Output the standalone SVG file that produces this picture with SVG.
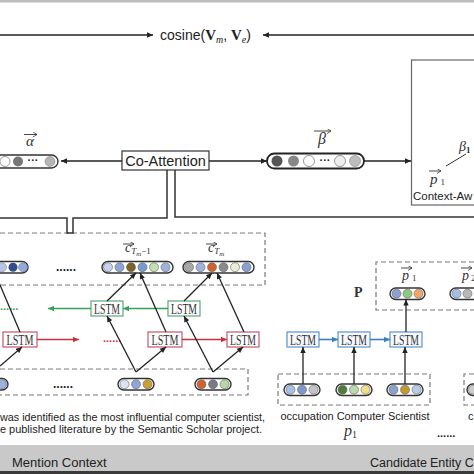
<svg xmlns="http://www.w3.org/2000/svg" width="474" height="474" viewBox="0 0 474 474">
<defs>
<marker id="ak" viewBox="0 0 10 10" refX="10" refY="5" markerWidth="7" markerHeight="6" markerUnits="userSpaceOnUse" orient="auto"><path d="M0,0.5 L10,5 L0,9.5 z" fill="#222"/></marker>
<marker id="ar" viewBox="0 0 10 10" refX="10" refY="5" markerWidth="7" markerHeight="6" markerUnits="userSpaceOnUse" orient="auto"><path d="M0,0.5 L10,5 L0,9.5 z" fill="#c8323f"/></marker>
<marker id="ag" viewBox="0 0 10 10" refX="10" refY="5" markerWidth="7" markerHeight="6" markerUnits="userSpaceOnUse" orient="auto"><path d="M0,0.5 L10,5 L0,9.5 z" fill="#34a25a"/></marker>
<marker id="ab" viewBox="0 0 10 10" refX="10" refY="5" markerWidth="7" markerHeight="6" markerUnits="userSpaceOnUse" orient="auto"><path d="M0,0.5 L10,5 L0,9.5 z" fill="#3a7fc1"/></marker>
<marker id="vec" viewBox="0 0 10 10" refX="10" refY="5" markerWidth="5" markerHeight="5" markerUnits="userSpaceOnUse" orient="auto"><path d="M2,0 L10,5 L2,10" fill="none" stroke="#333" stroke-width="1.5"/></marker>
</defs>
<style>
.sans{font-family:"Liberation Sans",Arial,sans-serif;fill:#222}
.ser{font-family:"Liberation Serif","Times New Roman",serif;fill:#333}
.mi{font-family:"Liberation Serif","Times New Roman",serif;font-style:italic;fill:#333}
.pill{fill:#fff;stroke:#333;stroke-width:1.4}
.dash{fill:none;stroke:#7a7a7a;stroke-width:1.2;stroke-dasharray:5 3}
.ck{stroke:#222;stroke-width:1.3;fill:none;marker-end:url(#ak)}
.cr{stroke:#c8323f;stroke-width:1.4;fill:none;marker-end:url(#ar)}
.cg{stroke:#34a25a;stroke-width:1.4;fill:none;marker-end:url(#ag)}
.cb{stroke:#3a7fc1;stroke-width:1.6;fill:none;marker-end:url(#ab)}
.lg{fill:#fff;stroke:#5aa97a;stroke-width:1.2}
.lr{fill:#fff;stroke:#c9566f;stroke-width:1.2}
.lb{fill:#f6faff;stroke:#5b94c8;stroke-width:1.2}
.lt{font-family:"Liberation Serif","Times New Roman",serif;font-size:14px;fill:#333;text-anchor:middle}
.v{stroke:#333;stroke-width:0.9;fill:none;marker-end:url(#vec)}
.c{stroke:#666;stroke-width:0.6}
</style>

<!-- frame bands -->
<rect x="0" y="0" width="474" height="2.5" fill="#bdbdbd"/>
<rect x="0" y="445" width="474" height="27" fill="#c9c9c9"/>
<rect x="0" y="471" width="474" height="3" fill="#3a3a3a"/>
<text class="sans" x="12" y="467" font-size="13">Mention Context</text>
<text class="sans" x="370" y="467" font-size="12.5">Candidate<tspan x="430">Entity C</tspan></text>

<!-- cosine -->
<g id="cosine">
<text class="sans" x="160" y="40" font-size="14">cosine(<tspan font-family="Liberation Serif" font-weight="bold" font-size="15">V</tspan><tspan font-family="Liberation Serif" font-style="italic" font-size="10" dy="3">m</tspan><tspan dy="-3">, </tspan><tspan font-family="Liberation Serif" font-weight="bold" font-size="15">V</tspan><tspan font-family="Liberation Serif" font-style="italic" font-size="10" dy="3">e</tspan><tspan dy="-3">)</tspan></text>
</g>

<!-- context-aware box -->
<g id="context-aware">
<rect x="411.5" y="60" width="80" height="145" fill="#fff" stroke="#666" stroke-width="1.2"/>
<line x1="446" y1="166" x2="466" y2="154" stroke="#333" stroke-width="1"/>
<text class="mi" x="459" y="151" font-size="14">β<tspan font-style="normal" font-weight="bold" font-size="9" dy="2">1</tspan></text>
<text class="mi" x="430" y="184" font-size="15">p<tspan font-style="normal" font-size="9" dx="3" dy="1">1</tspan></text>
<path class="v" d="M429,171 H441"/>
<text class="sans" x="413" y="200" font-size="11.5">Context-Aw</text>
</g>

<!-- alpha vector -->
<g id="alpha">
<rect class="pill" x="-10" y="155" width="68" height="13" rx="6.5"/>
<circle cx="5" cy="161.5" r="5" fill="#fff" stroke="#999"/>
<circle cx="18" cy="161.5" r="5" fill="#777"/>
<text class="sans" x="33" y="164" font-size="11" font-weight="bold" text-anchor="middle">···</text>
<circle cx="50" cy="161.5" r="5" fill="#b5b5b5" stroke="#888" stroke-width="0.6"/>
<text class="mi" x="30" y="146" font-size="15" text-anchor="middle">α</text>
<path class="v" d="M24,134.5 H37"/>
</g>

<!-- co-attention -->
<g id="co-attention">
<rect x="122" y="151" width="87" height="19" fill="#fff" stroke="#333" stroke-width="1.2"/>
<text class="sans" x="165.5" y="166" font-size="14.5" text-anchor="middle">Co-Attention</text>
</g>

<!-- beta vector -->
<g id="beta">
<rect x="267" y="153.5" width="97" height="15" rx="7.5" fill="#fff" stroke="#222" stroke-width="1.8"/>
<circle cx="277" cy="161" r="5.5" fill="#555"/>
<circle cx="293.5" cy="161" r="5.5" fill="#888"/>
<circle cx="309" cy="161" r="5.5" fill="#fff" stroke="#999"/>
<text class="sans" x="325" y="164" font-size="11" font-weight="bold" text-anchor="middle">···</text>
<circle cx="340" cy="161" r="5.5" fill="#eee" stroke="#999"/>
<circle cx="355" cy="161" r="5.5" fill="#bdbdbd" stroke="#888" stroke-width="0.6"/>
<text class="mi" x="322" y="144" font-size="16" text-anchor="middle">β</text>
<path class="v" d="M314,131 H331"/>
</g>

<!-- upper (mention context) vectors -->
<g id="ctx-vectors">
<path class="dash" d="M0,233 H265 V285 H0"/>
<rect class="pill" x="-20" y="261.5" width="48" height="11.5" rx="5.75"/>
<circle cx="2" cy="267.2" r="4.5" fill="#b7c5ea" stroke="#777" stroke-width="0.5"/>
<circle cx="13" cy="267.2" r="4.5" fill="#2f4f8c"/>
<circle cx="23" cy="267.2" r="4.5" fill="#93a9dc" stroke="#777" stroke-width="0.5"/>
<text class="sans" x="56" y="271" font-size="12" font-weight="bold">......</text>
<rect class="pill" x="102" y="261.5" width="71" height="11.5" rx="5.75"/>
<circle cx="108" cy="267.2" r="4.5" fill="#c8d0ef" class="c"/>
<circle cx="119.5" cy="267.2" r="4.5" fill="#8fa4d8" class="c"/>
<circle cx="131" cy="267.2" r="4.5" fill="#7d6326" class="c"/>
<circle cx="142.5" cy="267.2" r="4.5" fill="#7b9bd0" class="c"/>
<circle cx="154" cy="267.2" r="4.5" fill="#c5dfb0" class="c"/>
<circle cx="165.5" cy="267.2" r="4.5" fill="#9db2e0" class="c"/>
<text class="mi" x="125" y="252" font-size="14">c<tspan font-size="9" dy="2">T</tspan><tspan font-size="7" dy="2">m</tspan><tspan font-style="normal" font-size="9" dy="-2">−1</tspan></text>
<path class="v" d="M123,244 H134"/>
<rect class="pill" x="183" y="261.5" width="71" height="11.5" rx="5.75"/>
<circle cx="189" cy="267.2" r="4.5" fill="#a8a8a8" class="c"/>
<circle cx="200.5" cy="267.2" r="4.5" fill="#9db2e0" class="c"/>
<circle cx="212" cy="267.2" r="4.5" fill="#d4622c" class="c"/>
<circle cx="223.5" cy="267.2" r="4.5" fill="#8a8a8a" class="c"/>
<circle cx="235" cy="267.2" r="4.5" fill="#e8efd8" class="c"/>
<circle cx="246.5" cy="267.2" r="4.5" fill="#8a9fd6" class="c"/>
<text class="mi" x="208" y="252" font-size="14">c<tspan font-size="9" dy="2">T</tspan><tspan font-size="7" dy="2">m</tspan></text>
<path class="v" d="M206,244 H217"/>
</g>

<!-- LSTMs -->
<g id="lstm-g1"><rect class="lg" x="91" y="301" width="32" height="15"/><text class="lt" x="107" y="313.5" textLength="26" lengthAdjust="spacingAndGlyphs">LSTM</text></g>
<g id="lstm-g2"><rect class="lg" x="168" y="301" width="32" height="15"/><text class="lt" x="184" y="313.5" textLength="26" lengthAdjust="spacingAndGlyphs">LSTM</text></g>
<g id="lstm-r1"><rect class="lr" x="3" y="332" width="34" height="15"/><text class="lt" x="20" y="344.5" textLength="27" lengthAdjust="spacingAndGlyphs">LSTM</text></g>
<g id="lstm-r2"><rect class="lr" x="148" y="332" width="34" height="15"/><text class="lt" x="165" y="344.5" textLength="27" lengthAdjust="spacingAndGlyphs">LSTM</text></g>
<g id="lstm-r3"><rect class="lr" x="227" y="332" width="32" height="15"/><text class="lt" x="243" y="344.5" textLength="26" lengthAdjust="spacingAndGlyphs">LSTM</text></g>
<g id="lstm-b1"><rect class="lb" x="287" y="332" width="32" height="15"/><text class="lt" x="303" y="344.5" textLength="26" lengthAdjust="spacingAndGlyphs">LSTM</text></g>
<g id="lstm-b2"><rect class="lb" x="338" y="332" width="32" height="15"/><text class="lt" x="354" y="344.5" textLength="26" lengthAdjust="spacingAndGlyphs">LSTM</text></g>
<g id="lstm-b3"><rect class="lb" x="390" y="332" width="32" height="15"/><text class="lt" x="406" y="344.5" textLength="26" lengthAdjust="spacingAndGlyphs">LSTM</text></g>
<text class="sans" x="0" y="310" font-size="11" font-weight="bold" style="fill:#34a25a">......</text>
<text class="sans" x="103" y="342" font-size="11" font-weight="bold" style="fill:#c8323f">......</text>

<!-- lower (mention word) vectors -->
<g id="word-vectors">
<path class="dash" d="M0,369 H248 V395 H0"/>
<rect class="pill" x="-20" y="378.5" width="28" height="11.5" rx="5.75"/>
<circle cx="2" cy="384.2" r="4.5" fill="#9db2e0" class="c"/>
<text class="sans" x="53" y="388" font-size="12" font-weight="bold">......</text>
<rect class="pill" x="118" y="378.5" width="36" height="11.5" rx="5.75"/>
<circle cx="124.5" cy="384.2" r="4.5" fill="#dde2f3" class="c"/>
<circle cx="136" cy="384.2" r="4.5" fill="#8fa4d8" class="c"/>
<circle cx="147.5" cy="384.2" r="4.5" fill="#c9a033" class="c"/>
<rect class="pill" x="195" y="378.5" width="36" height="11.5" rx="5.75"/>
<circle cx="201.5" cy="384.2" r="4.5" fill="#d3612b" class="c"/>
<circle cx="213" cy="384.2" r="4.5" fill="#777b85" class="c"/>
<circle cx="224.5" cy="384.2" r="4.5" fill="#b6d8a3" class="c"/>
</g>
<text class="sans" x="0" y="421" font-size="11" textLength="265" lengthAdjust="spacingAndGlyphs">was identified as the most influential computer scientist,</text>
<text class="sans" x="0" y="433" font-size="11" textLength="262" lengthAdjust="spacingAndGlyphs">e published literature by the Semantic Scholar project.</text>

<!-- P section -->
<g id="P">
<path class="dash" d="M474,262 H376 V310 H474"/>
<text class="ser" x="354" y="297" font-size="14" font-weight="bold">P</text>
<text class="mi" x="402" y="280" font-size="14">p<tspan font-style="normal" font-size="9" dx="3" dy="1">1</tspan></text>
<path class="v" d="M401,268 H412"/>
<rect class="pill" x="390" y="288" width="35" height="11.5" rx="5.75"/>
<circle cx="396.5" cy="293.7" r="4.5" fill="#8d9fd4" class="c"/>
<circle cx="407.5" cy="293.7" r="4.5" fill="#8fc97f" class="c"/>
<circle cx="418.5" cy="293.7" r="4.5" fill="#f2a66a" class="c"/>
<rect class="pill" x="450" y="288" width="40" height="11.5" rx="5.75"/>
<circle cx="456.5" cy="293.7" r="4.5" fill="#a5bee6" class="c"/>
<circle cx="467.5" cy="293.7" r="4.5" fill="#b8b8b8" class="c"/>
<text class="mi" x="462" y="280" font-size="14">p<tspan font-style="normal" font-size="9" dx="2" dy="1">2</tspan></text>
<path class="v" d="M461,268 H472"/>
</g>

<!-- entity word vectors -->
<g id="entity-vectors">
<rect class="dash" x="278" y="374" width="152" height="31"/>
<path class="dash" d="M474,374 H464 V405 H474"/>
<rect class="pill" x="284" y="384" width="36" height="11.5" rx="5.75"/>
<circle cx="290.5" cy="389.7" r="4.5" fill="#a9c0e6" class="c"/>
<circle cx="302" cy="389.7" r="4.5" fill="#7d97cf" class="c"/>
<circle cx="313.5" cy="389.7" r="4.5" fill="#c4c4c4" class="c"/>
<rect class="pill" x="336" y="384" width="36" height="11.5" rx="5.75"/>
<circle cx="342.5" cy="389.7" r="4.5" fill="#4f7a3a" class="c"/>
<circle cx="354" cy="389.7" r="4.5" fill="#bcd8a8" class="c"/>
<circle cx="365.5" cy="389.7" r="4.5" fill="#f0e089" class="c"/>
<rect class="pill" x="387" y="384" width="36" height="11.5" rx="5.75"/>
<circle cx="393.5" cy="389.7" r="4.5" fill="#8b9fd4" class="c"/>
<circle cx="405" cy="389.7" r="4.5" fill="#c49a2e" class="c"/>
<circle cx="416.5" cy="389.7" r="4.5" fill="#b7cce9" class="c"/>
<rect class="pill" x="467" y="384" width="30" height="11.5" rx="5.75"/>
<circle cx="473" cy="389.7" r="4.5" fill="#ccc" class="c"/>
<text class="sans" x="355" y="420" font-size="11" text-anchor="middle">occupation Computer Scientist</text>
<text class="sans" x="468" y="420" font-size="11">c</text>
<text class="mi" x="344" y="436" font-size="16">p<tspan font-style="normal" font-size="10" dy="2">1</tspan></text>
<text class="sans" x="437" y="437" font-size="11" font-weight="bold">......</text>
</g>

<!-- connectors -->
<g id="connectors">
<line class="ck" x1="0" y1="35" x2="153" y2="35"/>
<line class="ck" x1="474" y1="35" x2="263" y2="35"/>
<line class="ck" x1="122" y1="161" x2="61" y2="161"/>
<line class="ck" x1="209" y1="161" x2="267" y2="161"/>
<line class="ck" x1="364" y1="161" x2="411" y2="161"/>
<path d="M175,170 V217 H474" fill="none" stroke="#333" stroke-width="1.5"/>
<path d="M0,218 H67 V233 H73 V218 H167 V170" fill="none" stroke="#333" stroke-width="1.5"/>
<line class="cg" x1="168" y1="308.5" x2="123" y2="308.5"/>
<line class="cg" x1="91" y1="308.5" x2="48" y2="308.5"/>
<line class="cr" x1="37" y1="339.5" x2="79" y2="339.5"/>
<line class="cr" x1="182" y1="339.5" x2="227" y2="339.5"/>
<line class="ck" x1="107" y1="301" x2="136" y2="273"/>
<line class="ck" x1="166" y1="332" x2="140" y2="273"/>
<line class="ck" x1="184" y1="301" x2="212" y2="273"/>
<line class="ck" x1="244" y1="332" x2="217" y2="273"/>
<line class="ck" x1="136" y1="372" x2="107" y2="316"/>
<line class="ck" x1="136" y1="372" x2="166" y2="347"/>
<line class="ck" x1="213" y1="372" x2="184" y2="316"/>
<line class="ck" x1="213" y1="372" x2="243" y2="347"/>
<line class="ck" x1="20" y1="332" x2="-5" y2="273"/>
<line class="ck" x1="0" y1="366" x2="22" y2="347"/>
<line class="cb" x1="319" y1="339.5" x2="338" y2="339.5"/>
<line class="cb" x1="370" y1="339.5" x2="390" y2="339.5"/>
<line class="ck" x1="406" y1="332" x2="406" y2="299.5"/>
<line class="ck" x1="303" y1="384" x2="303" y2="347"/>
<line class="ck" x1="354" y1="384" x2="354" y2="347"/>
<line class="ck" x1="405" y1="384" x2="405" y2="347"/>
</g>
</svg>
